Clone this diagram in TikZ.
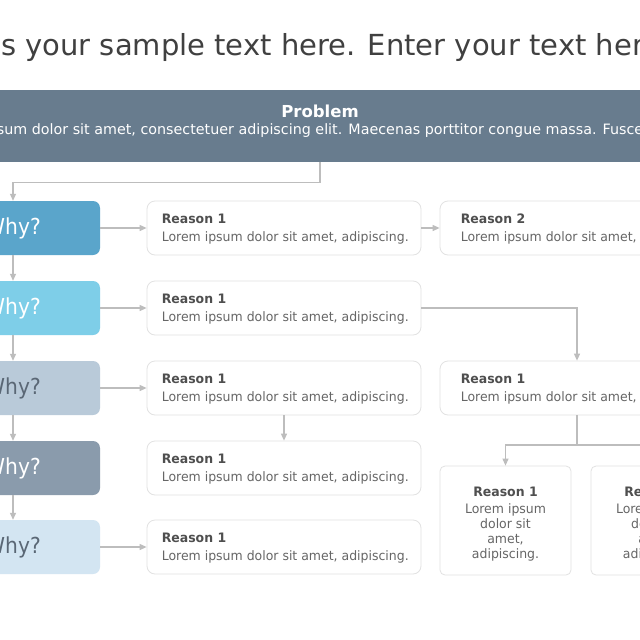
\documentclass[tikz,border=0pt]{standalone}
\usepackage{fontspec}
\setmainfont{DejaVu Sans}
\newfontfamily\bodyfont{DejaVu Sans}[FakeStretch=0.96]
\newfontfamily\whyfont{DejaVu Sans}[FakeStretch=0.92]
\usetikzlibrary{arrows.meta}
\definecolor{probc}{HTML}{687C8E}
\definecolor{whyA}{HTML}{5AA5CB}
\definecolor{whyB}{HTML}{7ECEE8}
\definecolor{whyC}{HTML}{B9CAD9}
\definecolor{whyD}{HTML}{8A9BAC}
\definecolor{whyE}{HTML}{D3E5F2}
\definecolor{whydark}{HTML}{5A6775}
\definecolor{titlec}{HTML}{404040}
\definecolor{boxline}{HTML}{E2E2E2}
\definecolor{arrc}{HTML}{BDBDBD}
\definecolor{headc}{HTML}{4F4F4F}
\definecolor{bodyc}{HTML}{666666}
\begin{document}
\begin{tikzpicture}[x=1pt,y=-1pt,
  whybox/.style={rounded corners=7pt, minimum width=174pt, minimum height=54pt, inner sep=0pt,
    font=\whyfont\fontsize{22}{24}\selectfont},
  rbox/.style={draw=boxline, line width=0.8pt, fill=white, rounded corners=8pt,
    minimum width=274pt, minimum height=54pt, inner sep=0pt},
  bbox/.style={draw=boxline, line width=0.8pt, fill=white, rounded corners=5pt,
    minimum width=131pt, minimum height=109pt, inner sep=0pt},
  rtext/.style={anchor=west, align=left, inner sep=0pt, text=bodyc,
    font=\bodyfont\fontsize{13}{18}\selectfont},
  btext/.style={align=center, inner sep=0pt, text=bodyc,
    font=\bodyfont\fontsize{13}{15}\selectfont},
  line/.style={draw=arrc, line width=1.1pt},
  arr/.style={line, -{Triangle[length=7pt,width=6pt]}}
]
\useasboundingbox (0,0) rectangle (640,640);
\clip (0,0) rectangle (640,640);
\fill[white] (0,0) rectangle (640,640);

% title
\node[anchor=west, inner sep=0pt, text=titlec, font=\fontsize{29}{31}\selectfont] (title) at (1,47)
  {s your sample text here. Enter your text here};

% problem
\node[fill=probc, minimum width=700pt, minimum height=72pt, inner sep=0pt] (prob) at (320,126) {};
\node[inner sep=0pt, text=white, font=\bfseries\fontsize{16.5}{18}\selectfont] (probt) at (320,111) {Problem};
\node[inner sep=0pt, text=white, font=\fontsize{14.3}{16}\selectfont] (probd) at (320,131)
  {sum dolor sit amet, consectetuer adipiscing elit. Maecenas porttitor congue massa. Fusce};

% why boxes
\node[whybox, fill=whyA, text=white] (w1) at (13,228) {Why?};
\node[whybox, fill=whyB, text=white] (w2) at (13,308) {Why?};
\node[whybox, fill=whyC, text=whydark] (w3) at (13,388) {Why?};
\node[whybox, fill=whyD, text=white] (w4) at (13,468) {Why?};
\node[whybox, fill=whyE, text=whydark] (w5) at (13,547) {Why?};

% reason boxes column 1
\node[rbox] (r11) at (284,228) {};
\node[rbox] (r21) at (284,308) {};
\node[rbox] (r31) at (284,388) {};
\node[rbox] (r41) at (284,468) {};
\node[rbox] (r51) at (284,547) {};
\node[rtext] (t11) at ([xshift=15pt,yshift=-1pt]r11.west) {\textcolor{headc}{\bfseries Reason 1}\\Lorem ipsum dolor sit amet, adipiscing.};
\node[rtext] (t21) at ([xshift=15pt,yshift=-1pt]r21.west) {\textcolor{headc}{\bfseries Reason 1}\\Lorem ipsum dolor sit amet, adipiscing.};
\node[rtext] (t31) at ([xshift=15pt,yshift=-1pt]r31.west) {\textcolor{headc}{\bfseries Reason 1}\\Lorem ipsum dolor sit amet, adipiscing.};
\node[rtext] (t41) at ([xshift=15pt,yshift=-1pt]r41.west) {\textcolor{headc}{\bfseries Reason 1}\\Lorem ipsum dolor sit amet, adipiscing.};
\node[rtext] (t51) at ([xshift=15pt,yshift=-1pt]r51.west) {\textcolor{headc}{\bfseries Reason 1}\\Lorem ipsum dolor sit amet, adipiscing.};

% column 2
\node[rbox] (r12) at (577,228) {};
\node[rbox] (r32) at (577,388) {};
\node[rtext] (t12) at ([xshift=21pt,yshift=-1pt]r12.west) {\textcolor{headc}{\bfseries Reason 2}\\Lorem ipsum dolor sit amet, adipiscing.};
\node[rtext] (t32) at ([xshift=21pt,yshift=-1pt]r32.west) {\textcolor{headc}{\bfseries Reason 1}\\Lorem ipsum dolor sit amet, adipiscing.};

% bottom boxes
\node[bbox] (b1) at (505.5,520.5) {};
\node[bbox] (b2) at (656.5,520.5) {};
\node[btext] (bt1) at ([yshift=-4pt]b1.center) {\textcolor{headc}{\bfseries Reason 1}\\[2pt]Lorem ipsum\\dolor sit\\amet,\\adipiscing.};
\node[btext] (bt2) at ([yshift=-4pt]b2.center) {\textcolor{headc}{\bfseries Reason 1}\\[2pt]Lorem ipsum\\dolor sit\\amet,\\adipiscing.};

% connectors
\draw[arr] (prob.south) -- ++(0,20) -| (w1.north);
\draw[arr] (w1.south) -- (w2.north);
\draw[arr] (w2.south) -- (w3.north);
\draw[arr] (w3.south) -- (w4.north);
\draw[arr] (w4.south) -- (w5.north);
\draw[arr] (w1.east) -- (r11.west);
\draw[arr] (w2.east) -- (r21.west);
\draw[arr] (w3.east) -- (r31.west);
\draw[arr] (w5.east) -- (r51.west);
\draw[arr] (r11.east) -- (r12.west);
\draw[arr] (r21.east) -| (r32.north);
\draw[arr] (r31.south) -- (r41.north);
\coordinate (sp) at (577,445);
\draw[line] (r32.south) -- (sp);
\draw[arr] (sp) -| (b1.north);
\draw[arr] (sp) -| (b2.north);
\end{tikzpicture}
\end{document}
